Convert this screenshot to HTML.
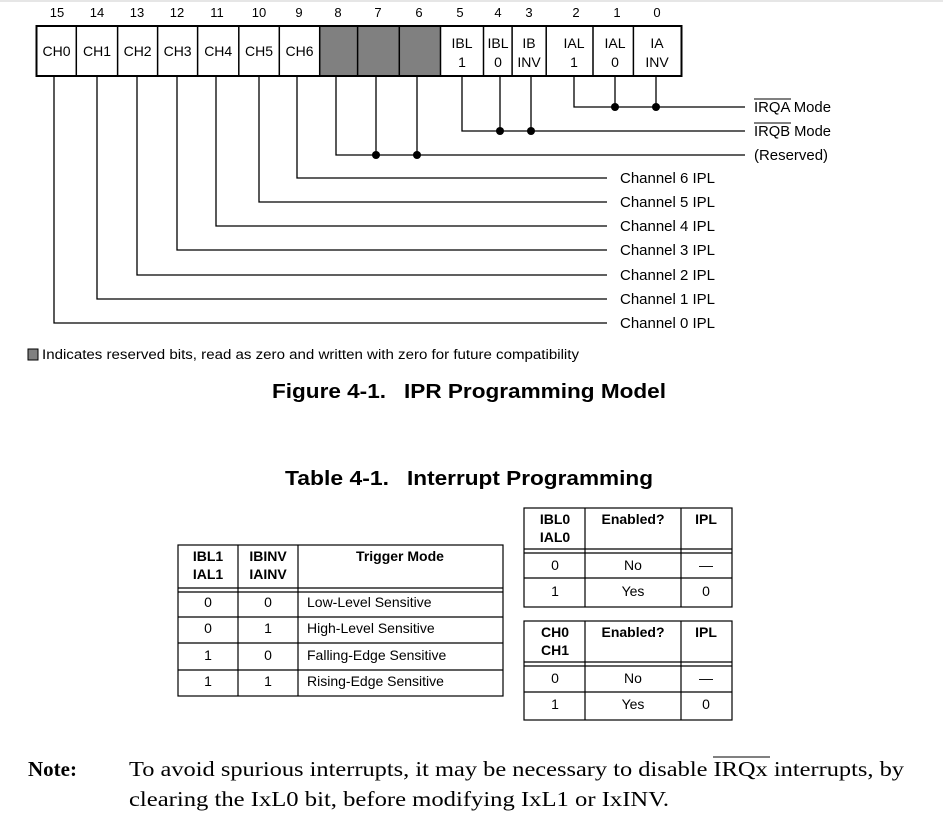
<!DOCTYPE html>
<html><head><meta charset="utf-8"><style>
html,body{margin:0;padding:0;background:#fff;width:943px;height:821px;overflow:hidden}
svg{display:block}
text{font-family:"Liberation Sans",sans-serif;fill:#000}
.s{font-size:14.5px}
.n{font-size:13px;text-anchor:middle}
.c{font-size:14px;text-anchor:middle}
.b{font-weight:bold}
.serif{font-family:"Liberation Serif",serif;font-size:21px}
.t{font-size:14px}
</style></head><body>
<svg width="943" height="821" viewBox="0 0 943 821" xmlns="http://www.w3.org/2000/svg">
<line x1="0" y1="1" x2="943" y2="1" stroke="#ccc" stroke-width="1"/>
<g>
<text class="n" x="57" y="17">15</text><text class="n" x="97" y="17">14</text><text class="n" x="137" y="17">13</text><text class="n" x="177" y="17">12</text><text class="n" x="217" y="17">11</text><text class="n" x="259" y="17">10</text><text class="n" x="299" y="17">9</text><text class="n" x="338" y="17">8</text><text class="n" x="378" y="17">7</text><text class="n" x="419" y="17">6</text><text class="n" x="460" y="17">5</text><text class="n" x="498" y="17">4</text><text class="n" x="529" y="17">3</text><text class="n" x="576" y="17">2</text><text class="n" x="617" y="17">1</text><text class="n" x="657" y="17">0</text>
</g>
<rect x="319.7" y="26" width="120.8" height="50" fill="#808080"/>
<rect x="36.5" y="26" width="645" height="50" fill="none" stroke="#000" stroke-width="2"/>
<g stroke="#000" stroke-width="1.5">
<line x1="76.3" y1="26" x2="76.3" y2="76"/><line x1="117.6" y1="26" x2="117.6" y2="76"/><line x1="157.6" y1="26" x2="157.6" y2="76"/><line x1="197.6" y1="26" x2="197.6" y2="76"/><line x1="238.8" y1="26" x2="238.8" y2="76"/><line x1="279.3" y1="26" x2="279.3" y2="76"/><line x1="319.7" y1="26" x2="319.7" y2="76"/><line x1="357.6" y1="26" x2="357.6" y2="76"/><line x1="399.3" y1="26" x2="399.3" y2="76"/><line x1="440.5" y1="26" x2="440.5" y2="76"/><line x1="483.5" y1="26" x2="483.5" y2="76"/><line x1="512.1" y1="26" x2="512.1" y2="76"/><line x1="546.2" y1="26" x2="546.2" y2="76"/><line x1="593" y1="26" x2="593" y2="76"/><line x1="633.4" y1="26" x2="633.4" y2="76"/>
</g>
<g>
<text class="c" x="56.5" y="56">CH0</text><text class="c" x="97" y="56">CH1</text><text class="c" x="137.6" y="56">CH2</text><text class="c" x="177.6" y="56">CH3</text><text class="c" x="218.2" y="56">CH4</text><text class="c" x="259" y="56">CH5</text><text class="c" x="299.5" y="56">CH6</text>
<text class="c" x="462" y="48">IBL</text><text class="c" x="462" y="67">1</text>
<text class="c" x="498" y="48">IBL</text><text class="c" x="498" y="67">0</text>
<text class="c" x="529" y="48">IB</text><text class="c" x="529" y="67">INV</text>
<text class="c" x="574" y="48">IAL</text><text class="c" x="574" y="67">1</text>
<text class="c" x="615" y="48">IAL</text><text class="c" x="615" y="67">0</text>
<text class="c" x="657" y="48">IA</text><text class="c" x="657" y="67">INV</text>
</g>
<g stroke="#000" stroke-width="1.3" fill="none">
<polyline points="574,76 574,107 745,107"/><line x1="615" y1="76" x2="615" y2="107"/><line x1="656" y1="76" x2="656" y2="107"/>
<polyline points="462,76 462,131 745,131"/><line x1="500" y1="76" x2="500" y2="131"/><line x1="531" y1="76" x2="531" y2="131"/>
<polyline points="336,76 336,155 745,155"/><line x1="376" y1="76" x2="376" y2="155"/><line x1="417" y1="76" x2="417" y2="155"/>
<polyline points="297,76 297,178 607,178"/>
<polyline points="259,76 259,202 607,202"/>
<polyline points="216,76 216,226 607,226"/>
<polyline points="177,76 177,250 607,250"/>
<polyline points="137,76 137,275 607,275"/>
<polyline points="97,76 97,299 607,299"/>
<polyline points="54,76 54,323 607,323"/>
</g>
<g fill="#000">
<circle cx="615" cy="107" r="4"/><circle cx="656" cy="107" r="4"/>
<circle cx="500" cy="131" r="4"/><circle cx="531" cy="131" r="4"/>
<circle cx="376" cy="155" r="4"/><circle cx="417" cy="155" r="4"/>
</g>
<g>
<text class="s" x="754" y="112" textLength="77" lengthAdjust="spacingAndGlyphs">IRQA Mode</text><line x1="754" y1="99" x2="791" y2="99" stroke="#000" stroke-width="1"/>
<text class="s" x="754" y="136" textLength="77" lengthAdjust="spacingAndGlyphs">IRQB Mode</text><line x1="754" y1="123" x2="791" y2="123" stroke="#000" stroke-width="1"/>
<text class="s" x="754" y="160" textLength="74" lengthAdjust="spacingAndGlyphs">(Reserved)</text>
<text class="s" x="620" y="183" textLength="95" lengthAdjust="spacingAndGlyphs">Channel 6 IPL</text>
<text class="s" x="620" y="207" textLength="95" lengthAdjust="spacingAndGlyphs">Channel 5 IPL</text>
<text class="s" x="620" y="231" textLength="95" lengthAdjust="spacingAndGlyphs">Channel 4 IPL</text>
<text class="s" x="620" y="255" textLength="95" lengthAdjust="spacingAndGlyphs">Channel 3 IPL</text>
<text class="s" x="620" y="280" textLength="95" lengthAdjust="spacingAndGlyphs">Channel 2 IPL</text>
<text class="s" x="620" y="304" textLength="95" lengthAdjust="spacingAndGlyphs">Channel 1 IPL</text>
<text class="s" x="620" y="328" textLength="95" lengthAdjust="spacingAndGlyphs">Channel 0 IPL</text>
</g>
<rect x="28" y="349" width="10" height="11" fill="#808080" stroke="#000" stroke-width="1"/>
<text x="42" y="359" style="font-size:13.5px" textLength="537" lengthAdjust="spacingAndGlyphs">Indicates reserved bits, read as zero and written with zero for future compatibility</text>
<text x="272" y="398" class="b" style="font-size:20px" textLength="114" lengthAdjust="spacingAndGlyphs">Figure 4-1.</text>
<text x="404" y="398" class="b" style="font-size:20px" textLength="262" lengthAdjust="spacingAndGlyphs">IPR Programming Model</text>
<text x="285" y="485" class="b" style="font-size:20px" textLength="104" lengthAdjust="spacingAndGlyphs">Table 4-1.</text>
<text x="407" y="485" class="b" style="font-size:20px" textLength="246" lengthAdjust="spacingAndGlyphs">Interrupt Programming</text>

<g stroke="#000" stroke-width="1.2" fill="none">
<rect x="178" y="545" width="325" height="151"/>
<line x1="238" y1="545" x2="238" y2="696"/><line x1="298" y1="545" x2="298" y2="696"/>
<line x1="178" y1="588" x2="503" y2="588"/><line x1="178" y1="592" x2="503" y2="592"/>
<line x1="178" y1="617" x2="503" y2="617"/><line x1="178" y1="643" x2="503" y2="643"/><line x1="178" y1="670" x2="503" y2="670"/>
</g>
<g>
<text x="208" y="561" text-anchor="middle" class="b t">IBL1</text><text x="208" y="579" text-anchor="middle" class="b t">IAL1</text>
<text x="268" y="561" text-anchor="middle" class="b t">IBINV</text><text x="268" y="579" text-anchor="middle" class="b t">IAINV</text>
<text x="400" y="561" text-anchor="middle" class="b t">Trigger Mode</text>
<text class="t" x="208" y="607" text-anchor="middle">0</text><text class="t" x="268" y="607" text-anchor="middle">0</text><text class="t" x="307" y="607">Low-Level Sensitive</text>
<text class="t" x="208" y="633" text-anchor="middle">0</text><text class="t" x="268" y="633" text-anchor="middle">1</text><text class="t" x="307" y="633">High-Level Sensitive</text>
<text class="t" x="208" y="660" text-anchor="middle">1</text><text class="t" x="268" y="660" text-anchor="middle">0</text><text class="t" x="307" y="660">Falling-Edge Sensitive</text>
<text class="t" x="208" y="686" text-anchor="middle">1</text><text class="t" x="268" y="686" text-anchor="middle">1</text><text class="t" x="307" y="686">Rising-Edge Sensitive</text>
</g>

<g stroke="#000" stroke-width="1.2" fill="none">
<rect x="524" y="508" width="208" height="99"/>
<line x1="585" y1="508" x2="585" y2="607"/><line x1="681" y1="508" x2="681" y2="607"/>
<line x1="524" y1="549" x2="732" y2="549"/><line x1="524" y1="553" x2="732" y2="553"/>
<line x1="524" y1="578" x2="732" y2="578"/>
</g>
<g>
<text x="555" y="524" text-anchor="middle" class="b t">IBL0</text><text x="555" y="542" text-anchor="middle" class="b t">IAL0</text>
<text x="633" y="524" text-anchor="middle" class="b t">Enabled?</text>
<text x="706" y="524" text-anchor="middle" class="b t">IPL</text>
<text class="t" x="555" y="570" text-anchor="middle">0</text><text class="t" x="633" y="570" text-anchor="middle">No</text><text class="t" x="706" y="570" text-anchor="middle">—</text>
<text class="t" x="555" y="596" text-anchor="middle">1</text><text class="t" x="633" y="596" text-anchor="middle">Yes</text><text class="t" x="706" y="596" text-anchor="middle">0</text>
</g>

<g stroke="#000" stroke-width="1.2" fill="none">
<rect x="524" y="621" width="208" height="99"/>
<line x1="585" y1="621" x2="585" y2="720"/><line x1="681" y1="621" x2="681" y2="720"/>
<line x1="524" y1="662" x2="732" y2="662"/><line x1="524" y1="666" x2="732" y2="666"/>
<line x1="524" y1="692" x2="732" y2="692"/>
</g>
<g>
<text x="555" y="637" text-anchor="middle" class="b t">CH0</text><text x="555" y="655" text-anchor="middle" class="b t">CH1</text>
<text x="633" y="637" text-anchor="middle" class="b t">Enabled?</text>
<text x="706" y="637" text-anchor="middle" class="b t">IPL</text>
<text class="t" x="555" y="683" text-anchor="middle">0</text><text class="t" x="633" y="683" text-anchor="middle">No</text><text class="t" x="706" y="683" text-anchor="middle">—</text>
<text class="t" x="555" y="709" text-anchor="middle">1</text><text class="t" x="633" y="709" text-anchor="middle">Yes</text><text class="t" x="706" y="709" text-anchor="middle">0</text>
</g>

<text x="28" y="776" class="serif b">Note:</text>
<text x="129" y="776" class="serif" textLength="775" lengthAdjust="spacingAndGlyphs">To avoid spurious interrupts, it may be necessary to disable IRQx interrupts, by</text>
<line x1="713" y1="757" x2="770" y2="757" stroke="#000" stroke-width="1"/>
<text x="129" y="806" class="serif" textLength="540" lengthAdjust="spacingAndGlyphs">clearing the IxL0 bit, before modifying IxL1 or IxINV.</text>
</svg>
</body></html>
